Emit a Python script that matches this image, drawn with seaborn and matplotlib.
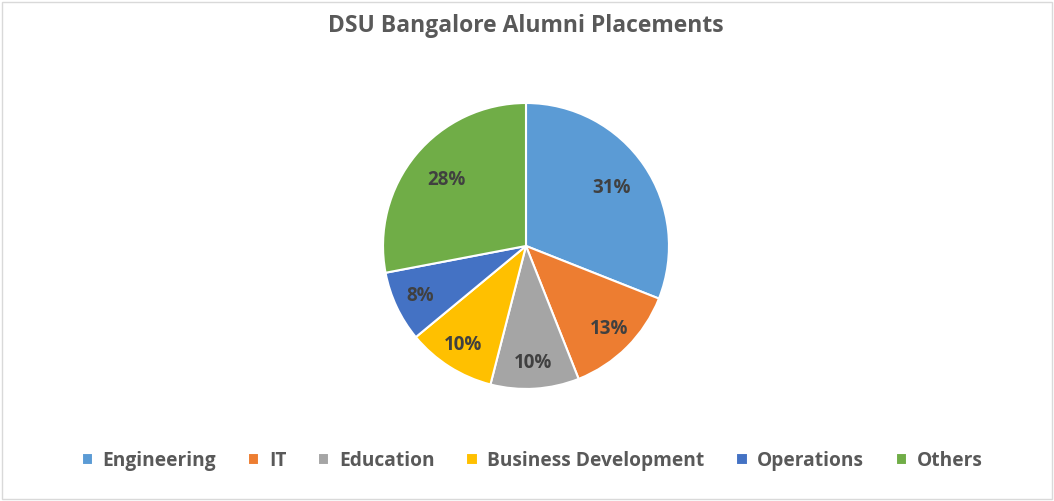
import matplotlib
matplotlib.use("Agg")
import matplotlib.pyplot as plt
import seaborn as sns
import numpy as np
from matplotlib.patches import Rectangle

categories = ["Engineering", "IT", "Education", "Business Development", "Operations", "Others"]
shares = [31, 13, 10, 10, 8, 28]
colors = ["#5B9BD5", "#ED7D31", "#A5A5A5", "#FFC000", "#4472C4", "#70AD47"]

sns.set_style("white")
plt.rcParams["font.family"] = ["Open Sans", "DejaVu Sans"]
text_color = "#595959"

fig = plt.figure(figsize=(10.54, 5.01), dpi=100)
fig.patches.append(Rectangle((0.002, 0.004), 0.996, 0.992, transform=fig.transFigure,
                             fill=False, edgecolor="#D9D9D9", linewidth=1))

ax = fig.add_axes([0.3634, 0.2236, 0.2713, 0.5709])
wedges, texts = ax.pie(shares, colors=colors, startangle=90, counterclock=False,
                       wedgeprops=dict(edgecolor="white", linewidth=1.5), radius=1)
ax.set_xlim(-1, 1)
ax.set_ylim(-1, 1)
ax.set_aspect("equal")

# percentage labels, pushed a bit further out on the small slices
for w, val in zip(wedges, shares):
    ang = np.deg2rad((w.theta1 + w.theta2) / 2)
    d = 0.72 if val > 20 else 0.82
    ax.text(d * np.cos(ang), d * np.sin(ang), f"{val}%", ha="center", va="center",
            fontsize=13.5, fontweight="bold", color="#404040")

fig.text(0.499, 0.948, "DSU Bangalore Alumni Placements", ha="center", va="center",
         fontsize=16.5, fontweight="bold", color=text_color)

leg = fig.legend(wedges, categories, loc="center", bbox_to_anchor=(0.505, 0.08), ncol=6,
                 frameon=False, fontsize=13.8, handlelength=0.6, handleheight=0.6,
                 handletextpad=0.5, columnspacing=1.65)
for t in leg.get_texts():
    t.set_color(text_color)
    t.set_fontweight("bold")

fig.savefig("out.png", dpi=100)
